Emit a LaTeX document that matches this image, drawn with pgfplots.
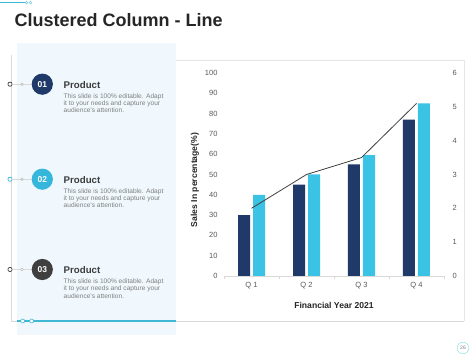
\documentclass[border=0pt]{standalone}
\usepackage{pgfplots}
\pgfplotsset{compat=1.18}
\usepackage{fontspec}
\setmainfont{Liberation Sans}
\definecolor{navy}{HTML}{1F3A68}
\definecolor{cyanbar}{HTML}{3BC3E6}
\definecolor{circcyan}{HTML}{35B6DB}
\definecolor{circdark}{HTML}{3F3F3F}
\definecolor{panelbg}{HTML}{F0F8FD}
\definecolor{titlecol}{HTML}{262626}
\definecolor{bodygray}{HTML}{7F7F7F}
\definecolor{tickgray}{HTML}{595959}
\definecolor{axisgray}{HTML}{D9D9D9}
\definecolor{framegray}{HTML}{E6E6E6}
\definecolor{linegray}{HTML}{404040}
\definecolor{decocyan}{HTML}{3FB8D6}
\begin{document}
\begin{tikzpicture}[x=1pt,y=1pt]
\path[use as bounding box, fill=white] (0,0) rectangle (474,355);
% top-left decoration
\draw[decocyan, line width=0.8pt] (0,352.3) -- (25,352.3);
\draw[decocyan!70, line width=0.5pt, fill=white] (26.5,352.3) circle (1.4);
\draw[decocyan!70, line width=0.5pt, fill=white] (30.5,352.3) circle (1.4);
% title
\node[anchor=base west, inner sep=0, font=\bfseries\fontsize{18}{20}\selectfont, text=titlecol] at (14.5,328.3) {Clustered Column - Line};
% panel
\fill[panelbg] (17,20) rectangle (176,312);
% chart frame (top, right, bottom)
\draw[framegray, line width=0.6pt] (176,294.3) -- (464,294.3) -- (464,34);
% left vertical line and bottom line
\draw[axisgray, line width=0.5pt] (11,300) -- (11,34) -- (464,34);
\draw[decocyan, line width=2.2pt] (17,34) -- (176,34);
\draw[decocyan, line width=0.6pt, fill=white] (22.7,34) circle (2);
\draw[decocyan, line width=0.6pt, fill=white] (31.7,34) circle (2);
% items
\foreach \cy/\num/\col/\oc in {84.2/01/navy/circdark, 179.2/02/circcyan/circcyan, 269.5/03/circdark/circdark}{
  \pgfmathsetmacro{\yy}{355-\cy}
  \draw[axisgray, line width=0.5pt] (12.5,\yy) -- (31.6,\yy);
  \draw[\oc, line width=0.7pt, fill=white] (10,\yy) circle (2.1);
  \draw[axisgray!80!black, line width=0.4pt, fill=white] (22,\yy) circle (1.3);
  \fill[\col] (42.3,\yy) circle (10.6);
  \node[text=white, font=\bfseries\fontsize{8.5}{10}\selectfont, inner sep=0] at (42.3,\yy) {\num};
  \node[anchor=base west, inner sep=0, font=\bfseries\fontsize{9.7}{11}\selectfont, text=titlecol!90] at (63.5,\yy-4.3) {Product};
  \node[anchor=base west, inner sep=0, font=\fontsize{6.6}{7.5}\selectfont, text=bodygray] at (63.5,\yy-14.2) {This slide is 100\% editable. Adapt};
  \node[anchor=base west, inner sep=0, font=\fontsize{6.6}{7.5}\selectfont, text=bodygray] at (63.5,\yy-21.5) {it to your needs and capture your};
  \node[anchor=base west, inner sep=0, font=\fontsize{6.6}{7.5}\selectfont, text=bodygray] at (63.5,\yy-28.8) {audience's attention.};
}
% page number
\draw[axisgray!70!cyan, line width=0.5pt] (463,7) circle (5.8);
\node[font=\fontsize{5}{6}\selectfont, text=bodygray, inner sep=0] at (463,7) {26};
% bars axis
\begin{axis}[
  at={(224pt,79pt)}, anchor=south west, scale only axis,
  width=220pt, height=203pt,
  xmin=-0.5, xmax=3.5, ymin=0, ymax=100,
  ybar=3pt, bar width=12pt,
  axis x line*=bottom, axis y line*=left,
  x axis line style={draw=axisgray, line width=0.6pt, -},
  y axis line style={draw=none},
  ytick={0,10,...,100},
  xtick={0,1,2,3}, xticklabels={Q 1,Q 2,Q 3,Q 4},
  major tick length=0pt,
  extra x ticks={-0.5,0.5,1.5,2.5,3.5}, extra x tick labels={},
  extra x tick style={major tick length=3pt, tick align=outside, major x tick style={draw=axisgray, line width=0.6pt}},
  /pgf/number format/assume math mode=true,
  tick label style={font=\fontsize{7.5}{9}\selectfont, text=tickgray},
  yticklabel style={xshift=-3pt},
  xticklabel style={yshift=-3pt},
  ylabel={Sales In percentage(\%)},
  xlabel={Financial Year 2021},
  every axis y label/.style={at={([xshift=-29pt]axis description cs:0,0.473)}, anchor=center, rotate=90, font=\bfseries\fontsize{8.6}{10}\selectfont, text=titlecol},
  every axis x label/.style={at={([yshift=-29pt]axis description cs:0.5,0)}, anchor=center, font=\bfseries\fontsize{8.6}{10}\selectfont, text=titlecol},
]
\addplot[fill=navy, draw=none] coordinates {(0,30) (1,45) (2,55) (3,77)};
\addplot[fill=cyanbar, draw=none] coordinates {(0,40) (1,50) (2,59.5) (3,85)};
\end{axis}
% line axis
\begin{axis}[
  at={(224pt,79pt)}, anchor=south west, scale only axis,
  width=220pt, height=203pt,
  xmin=-0.5, xmax=3.5, ymin=0, ymax=6,
  axis x line=none, axis y line*=right,
  y axis line style={draw=none},
  ytick={0,1,...,6},
  major tick length=0pt,
  /pgf/number format/assume math mode=true,
  tick label style={font=\fontsize{7.5}{9}\selectfont, text=tickgray},
  yticklabel style={xshift=5pt},
]
\addplot[linegray, line width=0.8pt, mark=none] coordinates {(0,2) (1,3) (2,3.5) (3,5.1)};
\end{axis}
\end{tikzpicture}
\end{document}
